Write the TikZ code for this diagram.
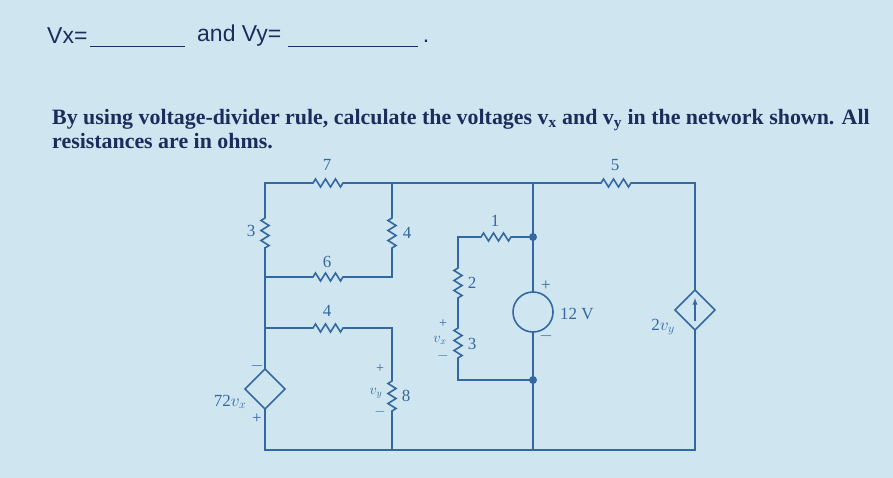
\documentclass[tikz,border=0pt]{standalone}
\usepackage{fontspec}
\setmainfont{Liberation Serif}
\newfontfamily\arialf{Liberation Sans}
\definecolor{bg}{HTML}{CFE6F1}
\definecolor{wc}{HTML}{3568A0}
\definecolor{tc}{HTML}{1C2C5C}
\begin{document}
\begin{tikzpicture}[x=1pt,y=-1pt,
  wire/.style={wc,line width=1.6pt},
  lbl/.style={wc,font=\fontsize{17}{17}\selectfont,inner sep=1pt},
  slbl/.style={wc,font=\fontsize{14}{14}\selectfont,inner sep=0.5pt},
  dotn/.style={circle,fill=wc,inner sep=0pt,minimum size=8pt}]
\fill[bg] (0,0) rectangle (893,478);
\useasboundingbox (0,0) rectangle (893,478);
\newcommand\hres[3]{\draw[wire] (#1,#3) -- ++(3,0) -- ++(2.5,-4) -- ++(5,8) -- ++(5,-8) -- ++(5,8) -- ++(5,-8) -- ++(5,8) -- ++(2.5,-4) -- (#2,#3);}
\newcommand\vres[3]{\draw[wire] (#3,#1) -- ++(0,3) -- ++(-4,2.5) -- ++(8,5) -- ++(-8,5) -- ++(8,5) -- ++(-8,5) -- ++(8,5) -- ++(-4,2.5) -- (#3,#2);}
% header
\node[anchor=west,tc,font=\arialf\fontsize{23}{23}\selectfont,inner sep=0] (h1) at (47,36) {Vx=};
\draw[tc,line width=0.8pt] (90,46) -- (185,46);
\node[anchor=west,tc,font=\arialf\fontsize{23}{23}\selectfont,inner sep=0] (h2) at (197,36) {and Vy=};
\draw[tc,line width=0.8pt] (288,46) -- (418,46);
\node[tc,font=\arialf\fontsize{23}{23}\selectfont,inner sep=0] (h3) at (426,41) {.};
\node[anchor=west,tc,font=\bfseries\fontsize{21.9}{21.9}\selectfont,inner sep=0] (p1) at (52,120) {By using voltage-divider rule, calculate the voltages v\textsubscript{x} and v\textsubscript{y} in the network shown. All};
\node[anchor=west,tc,font=\bfseries\fontsize{21.9}{21.9}\selectfont,inner sep=0] (p2) at (52,141) {resistances are in ohms.};
% wires
\draw[wire] (265,215) -- (265,183) -- (310,183);
\draw[wire] (345,183) -- (598,183);
\draw[wire] (633,183) -- (695,183) -- (695,290);
\hres{310}{345}{183}
\hres{598}{633}{183}
\vres{215}{247}{265}
\draw[wire] (265,247) -- (265,369);
\draw[wire] (392,183) -- (392,215);
\vres{215}{250}{392}
\draw[wire] (392,250) -- (392,277) -- (345,277);
\hres{310}{345}{277}
\draw[wire] (310,277) -- (265,277);
\draw[wire] (265,328) -- (310,328);
\hres{310}{345}{328}
\draw[wire] (345,328) -- (392,328) -- (392,378);
\vres{378}{412}{392}
\draw[wire] (392,412) -- (392,450);
% left diamond
\draw[wire] (265,369) -- (285,389) -- (265,409) -- (245,389) -- cycle;
\draw[wire] (265,409) -- (265,450) -- (695,450) -- (695,330);
% right diamond
\draw[wire] (695,290) -- (715,310) -- (695,330) -- (675,310) -- cycle;
\draw[wc,line width=1.3pt,-latex] (695,321) -- (695,298);
% middle loop
\draw[wire] (533,183) -- (533,292);
\draw[wire] (533,332) -- (533,450);
\draw[wire] (533,312) circle (20);
\draw[wire] (533,237) -- (513,237);
\hres{478}{513}{237}
\draw[wire] (478,237) -- (458,237) -- (458,265);
\vres{265}{300}{458}
\draw[wire] (458,300) -- (458,325);
\vres{325}{360}{458}
\draw[wire] (458,360) -- (458,380) -- (533,380);
\node[dotn] (d1) at (533,237) {};
\node[dotn] (d2) at (533,380) {};
% labels
\node[lbl] (l7) at (327,165) {7};
\node[lbl] (l3) at (251,231) {3};
\node[lbl] (l4) at (407,233) {4};
\node[lbl] (l6) at (327,262) {6};
\node[lbl] (l4b) at (327,311) {4};
\node[lbl] (l1) at (495,221) {1};
\node[lbl] (l2) at (472,283) {2};
\node[lbl] (l3b) at (472,344) {3};
\node[lbl] (l5) at (615,165) {5};
\node[lbl] (l8) at (406,396) {8};
\node[slbl] (vxp) at (443,324) {+};
\node[slbl] (vx) at (440,340) {$v_x$};
\node[slbl] (vxm) at (443,356) {$-$};
\node[slbl] (vyp) at (380,369) {+};
\node[slbl] (vy) at (376,393) {$v_y$};
\node[slbl] (vym) at (380,412) {$-$};
\node[lbl] (g72) at (230,402) {72$v_x$};
\node[lbl] (gm) at (257,366) {$-$};
\node[lbl] (gp) at (257,419) {+};
\node[lbl] (s12) at (577,314) {12 V};
\node[lbl] (sp) at (546,286) {+};
\node[lbl] (sm) at (546,336) {$-$};
\node[lbl] (g2) at (663,327) {2$v_y$};
\end{tikzpicture}
\end{document}
